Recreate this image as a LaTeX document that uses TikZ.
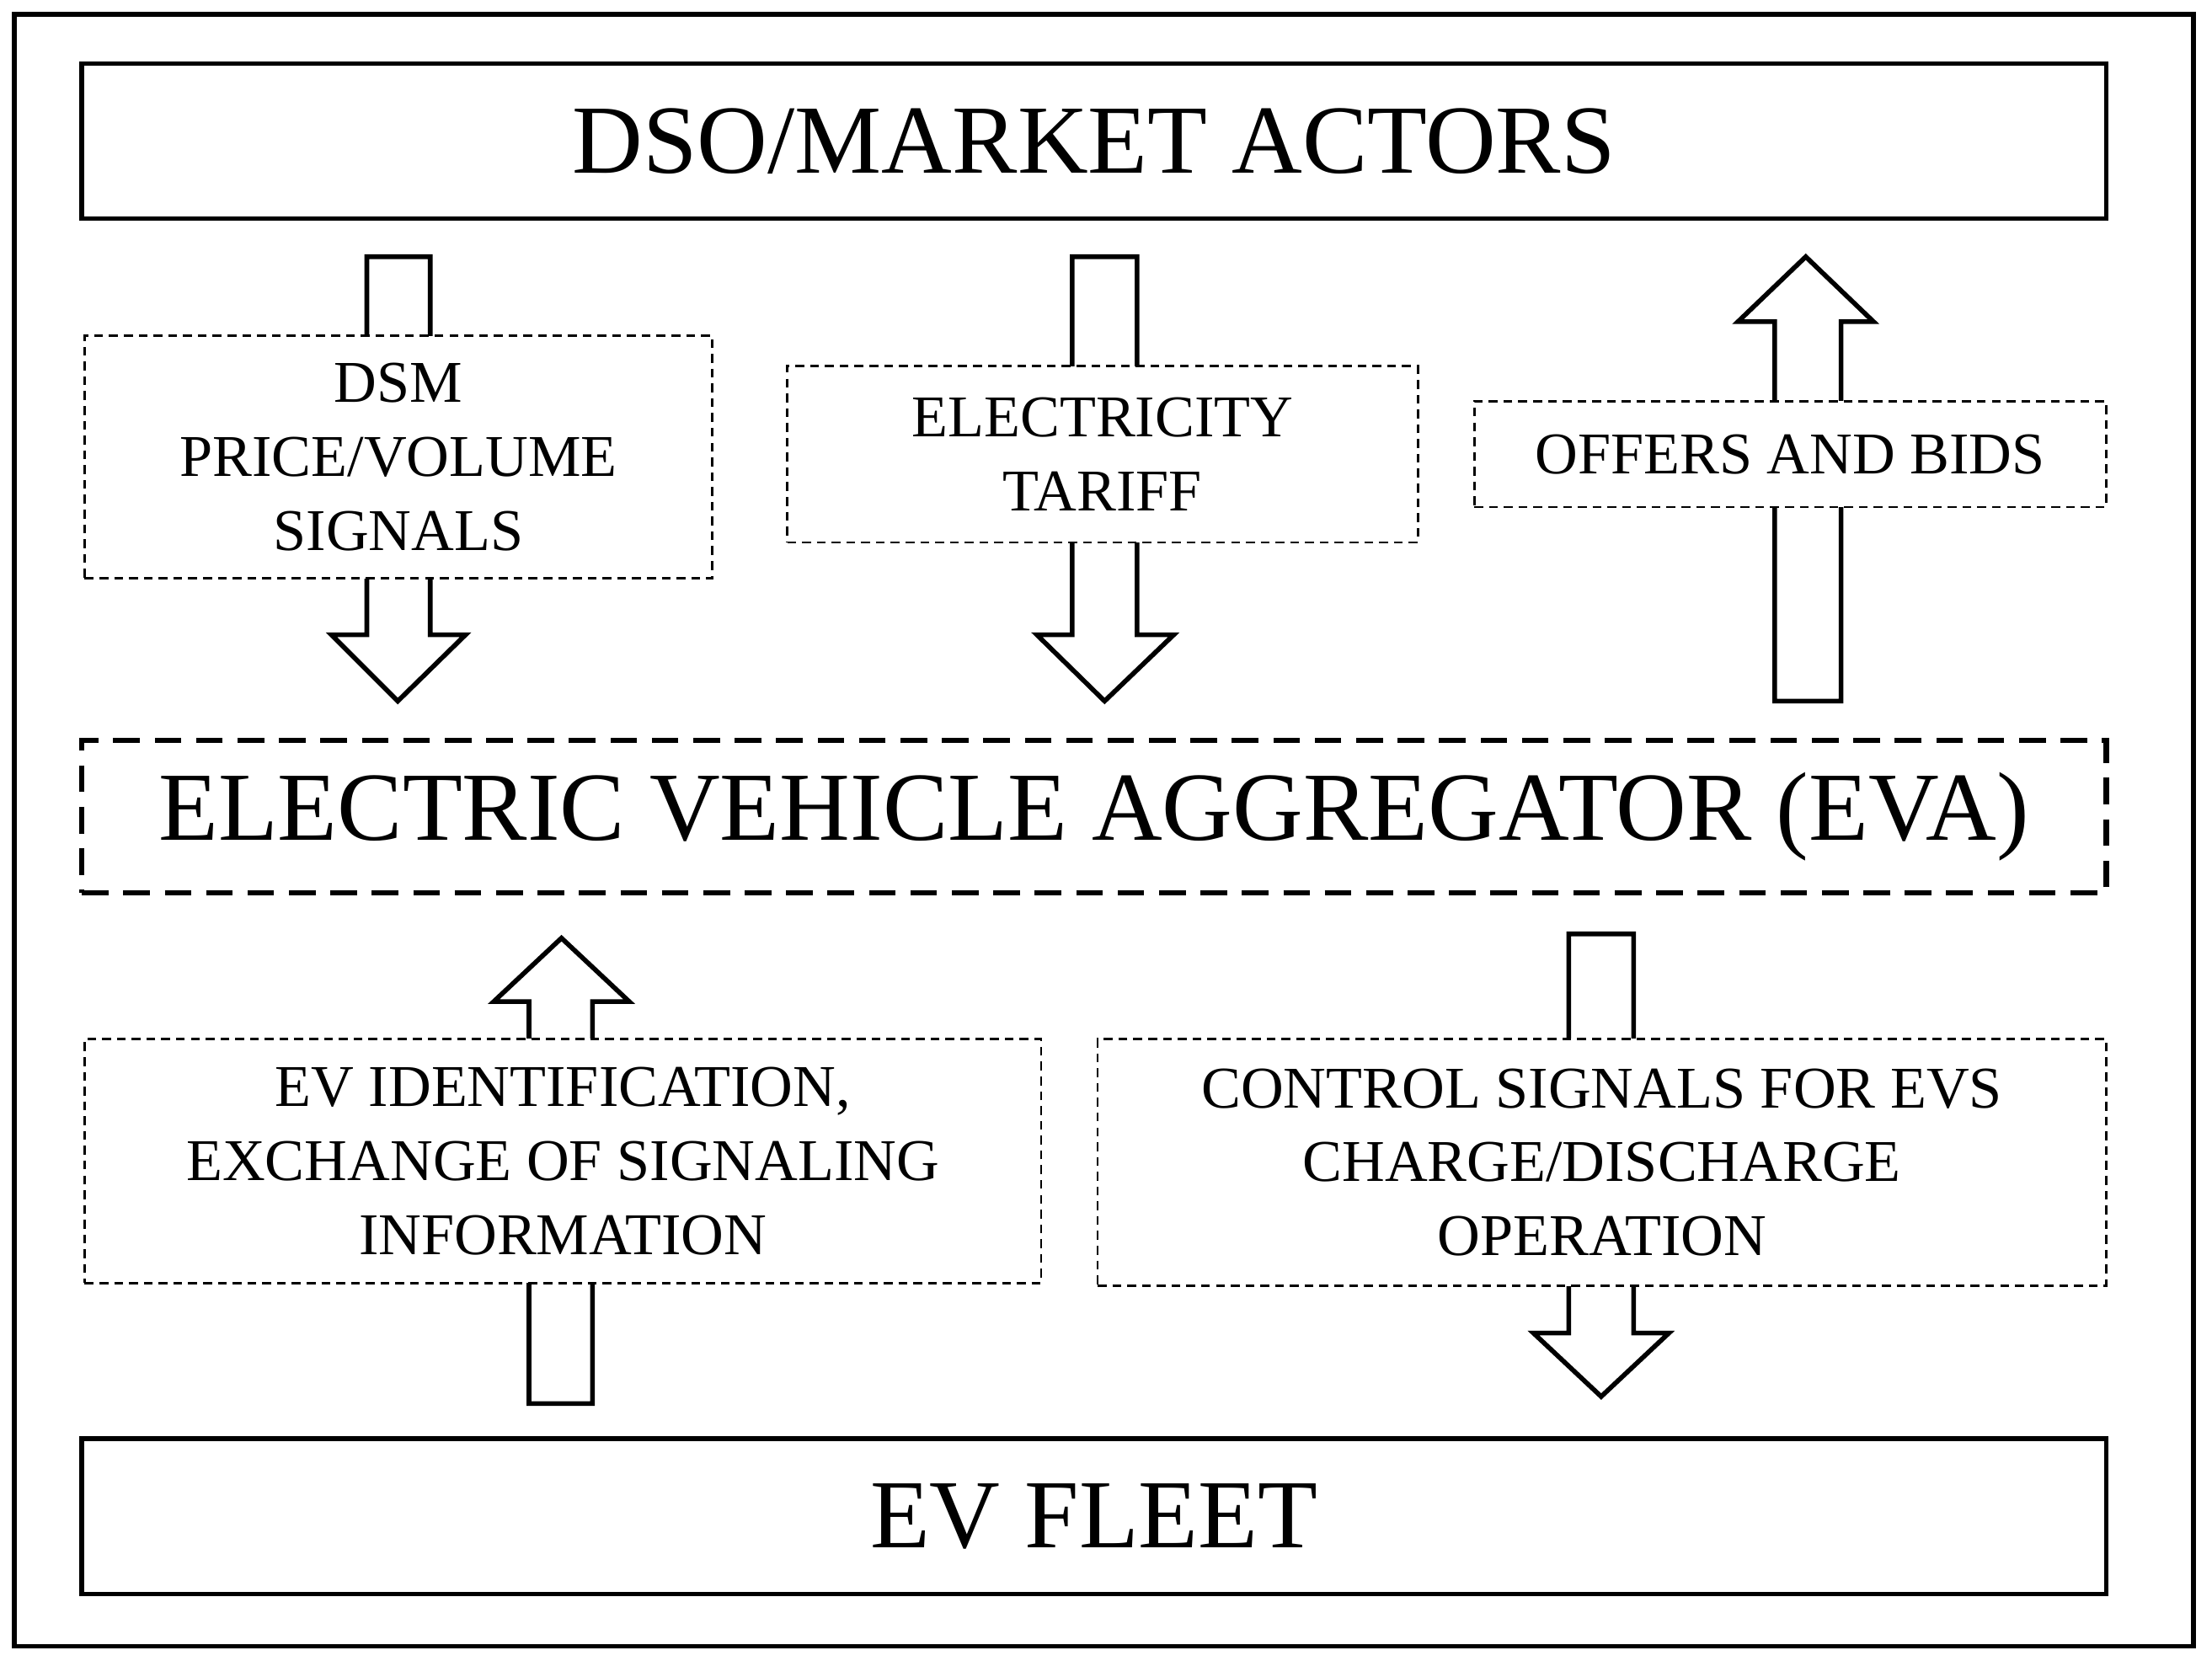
\documentclass[tikz,border=0pt]{standalone}
\usepackage{fontspec}
\setmainfont{Liberation Serif}
\usetikzlibrary{positioning}
\tikzset{
  solidbox/.style={draw, line width=1.6pt, fill=white},
  signalbox/.style={draw, densely dashed, line width=0.8pt, fill=white, align=center, font=\fontsize{20}{25}\selectfont},
  evabox/.style={draw, dash pattern=on 9pt off 5pt, line width=1.8pt, fill=white},
  blockarrow/.style={draw, line width=1.6pt, fill=white, line join=miter}
}
% hollow block arrow: x, start y, head base y, tip y, half shaft, half head
\newcommand{\blockarr}[5]{%
  \draw[blockarrow] (#1-#4,#2) -- (#1+#4,#2) -- (#1+#4,#3) -- (#1+#5,#3) -- (#1,#3+#3-#3) -- cycle;}
\begin{document}
\begin{tikzpicture}[x=0.01675cm, y=-0.01675cm]
\useasboundingbox (0,0) rectangle (1568,1177);
\draw[line width=1.6pt] (10,10) rectangle (1555,1167);

% arrows (behind boxes)
\draw[blockarrow] (260,182) -- (305,182) -- (305,450) -- (330,450) -- (282,497) -- (235,450) -- (260,450) -- cycle;
\draw[blockarrow] (760,182) -- (806,182) -- (806,450) -- (832,450) -- (783,497) -- (735,450) -- (760,450) -- cycle;
\draw[blockarrow] (1258,497) -- (1305,497) -- (1305,228) -- (1328,228) -- (1280,182) -- (1232,228) -- (1258,228) -- cycle;
\draw[blockarrow] (375,995) -- (420,995) -- (420,710) -- (446,710) -- (398,665) -- (350,710) -- (375,710) -- cycle;
\draw[blockarrow] (1112,662) -- (1158,662) -- (1158,945) -- (1183,945) -- (1135,990) -- (1087,945) -- (1112,945) -- cycle;

% main boxes
\node[solidbox, minimum width=1435*0.01675cm, minimum height=110*0.01675cm, font=\fontsize{33}{38}\selectfont] (dso) at (775.5,100) {DSO/MARKET ACTORS};
\node[evabox, minimum width=1435*0.01675cm, minimum height=108*0.01675cm, font=\fontsize{33}{38}\selectfont] (eva) at (775.5,579) {ELECTRIC VEHICLE AGGREGATOR (EVA)};
\node[solidbox, minimum width=1435*0.01675cm, minimum height=110*0.01675cm, font=\fontsize{33}{38}\selectfont] (fleet) at (775.5,1075) {EV FLEET};

% signal boxes
\node[signalbox, minimum width=445*0.01675cm, minimum height=172*0.01675cm] (dsm) at (282.5,324) {DSM\\PRICE/VOLUME\\SIGNALS};
\node[signalbox, minimum width=447*0.01675cm, minimum height=125*0.01675cm] (tariff) at (781.5,322) {ELECTRICITY\\TARIFF};
\node[signalbox, minimum width=448*0.01675cm, minimum height=75*0.01675cm] (offers) at (1269,322) {OFFERS AND BIDS};
\node[signalbox, minimum width=678*0.01675cm, minimum height=173*0.01675cm] (evid) at (399,823) {EV IDENTIFICATION,\\EXCHANGE OF SIGNALING\\INFORMATION};
\node[signalbox, minimum width=715*0.01675cm, minimum height=175*0.01675cm] (control) at (1135.5,824) {CONTROL SIGNALS FOR EVS\\CHARGE/DISCHARGE\\OPERATION};
\end{tikzpicture}
\end{document}
